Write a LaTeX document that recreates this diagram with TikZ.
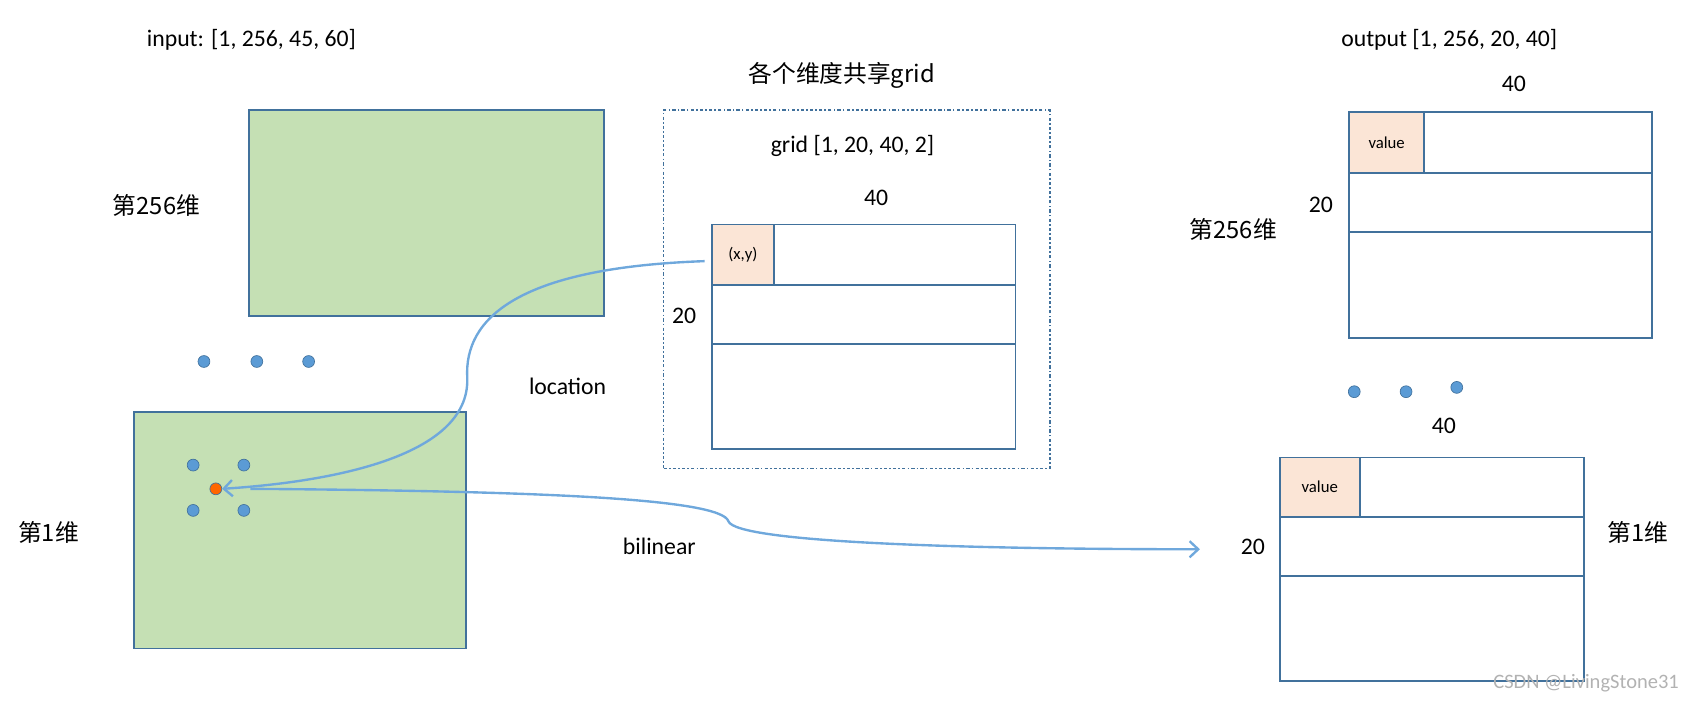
\documentclass[tikz,border=0pt]{standalone}
\usepackage{fontspec}
\setmainfont{Carlito}
\newfontfamily\cjk{Noto Sans CJK SC}
\usetikzlibrary{arrows.meta}
\definecolor{bd}{HTML}{41719C}
\definecolor{gr}{HTML}{C5E0B4}
\definecolor{pk}{HTML}{FBE5D6}
\definecolor{ar}{HTML}{6FA8DC}
\definecolor{dt}{HTML}{5B9BD5}
\begin{document}
\begin{tikzpicture}[x=1pt,y=-1pt,
  box/.style={draw=bd,line width=1.7pt},
  lbl/.style={font=\fontsize{22}{26}\selectfont,inner sep=0},
  cn/.style={font=\cjk\fontsize{22}{26}\selectfont,inner sep=0},
  sm/.style={font=\fontsize{15.5}{18}\selectfont,inner sep=0},
  dot/.style={circle,fill=dt,draw=bd,line width=0.6pt,minimum size=11pt,inner sep=0},
  conn/.style={draw=ar,line width=2.2pt,-{Straight Barb[length=8pt,width=15pt]}}]
\useasboundingbox (0,0) rectangle (1568,650);
\node[lbl] (tin) at (233,37) {input: [1, 256, 45, 60]};
\node[box,fill=gr,minimum width=329pt,minimum height=191pt] (g1) at (395.5,197.5) {};
\node[cn] (l256) at (145,190) {第256维};
\node[dot] (d1) at (189,335) {}; \node[dot] (d2) at (238,335) {}; \node[dot] (d3) at (286,335) {};
\node[box,fill=gr,minimum width=308pt,minimum height=219pt] (g2) at (278,491.5) {};
\node[cn] (l1) at (45,493) {第1维};
\node[dot] (p1) at (179,431) {}; \node[dot] (p2) at (226,431) {};
\node[dot] (p3) at (179,473) {}; \node[dot] (p4) at (226,473) {};
\node[circle,fill=orange!80!red,draw=bd,line width=0.6pt,minimum size=11pt,inner sep=0] (po) at (200,453) {};
% grid
\node[cn] (tg) at (780,70) {各个维度共享grid};
\node[draw=bd,line width=1.5pt,dash dot,minimum width=358pt,minimum height=332pt] (dd) at (794,268) {};
\node[lbl] (tg2) at (790,135) {grid [1, 20, 40, 2]};
\node[lbl] (g40) at (812,183) {40};
\node[box,minimum width=281pt,minimum height=56pt] (r1) at (800.5,236) {};
\node[box,minimum width=281pt,minimum height=55pt] (r2) at (800.5,291.5) {};
\node[box,minimum width=281pt,minimum height=97pt] (r3) at (800.5,367.5) {};
\node[box,fill=pk,minimum width=57pt,minimum height=56pt] (c1) at (688.5,236) {};
\node[sm] at (c1) {(x,y)};
\node[lbl] (g20) at (634,293) {20};
\node[lbl] (loc) at (526,358) {location};
% output
\node[lbl] (tout) at (1343,37) {output [1, 256, 20, 40]};
\node[lbl] (o40a) at (1403,78) {40};
\node[box,minimum width=281pt,minimum height=56pt] (a1) at (1390.5,132) {};
\node[box,minimum width=281pt,minimum height=55pt] (a2) at (1390.5,187.5) {};
\node[box,minimum width=281pt,minimum height=98pt] (a3) at (1390.5,264) {};
\node[box,fill=pk,minimum width=70pt,minimum height=56pt] (ac) at (1285,132) {};
\node[sm] at (ac) {value};
\node[lbl] (o20a) at (1224,190) {20};
\node[cn] (o256) at (1143,213) {第256维};
\node[dot] (e1) at (1255,363) {}; \node[dot] (e2) at (1303,363) {}; \node[dot] (e3) at (1350,359) {};
\node[lbl] (o40b) at (1338,395) {40};
\node[box,minimum width=282pt,minimum height=55pt] (b1) at (1327,451.5) {};
\node[box,minimum width=282pt,minimum height=55pt] (b2) at (1327,506.5) {};
\node[box,minimum width=282pt,minimum height=97pt] (b3) at (1327,582.5) {};
\node[box,fill=pk,minimum width=74pt,minimum height=55pt] (bc) at (1223,451.5) {};
\node[sm] at (bc) {value};
\node[lbl] (o20b) at (1161,507) {20};
\node[cn] (o1) at (1518,493) {第1维};
\node[lbl] (bil) at (611,506) {bilinear};
\coordinate (s1) at (653,242);
\coordinate (s2) at (232,453);
\coordinate (t2) at (1112,509);
\draw[conn] (s1) .. controls (480,248) and (430,295) .. (433,350) .. controls (436,425) and (300,447) .. (po.east);
\draw[conn] (s2) .. controls (500,455) and (668,462) .. (675,483) .. controls (682,503) and (900,509) .. (t2);
\node[font=\fontsize{19}{22}\selectfont,text=gray!60,anchor=east,inner sep=0] (wm) at (1556,633) {CSDN @LivingStone31};
\end{tikzpicture}
\end{document}
